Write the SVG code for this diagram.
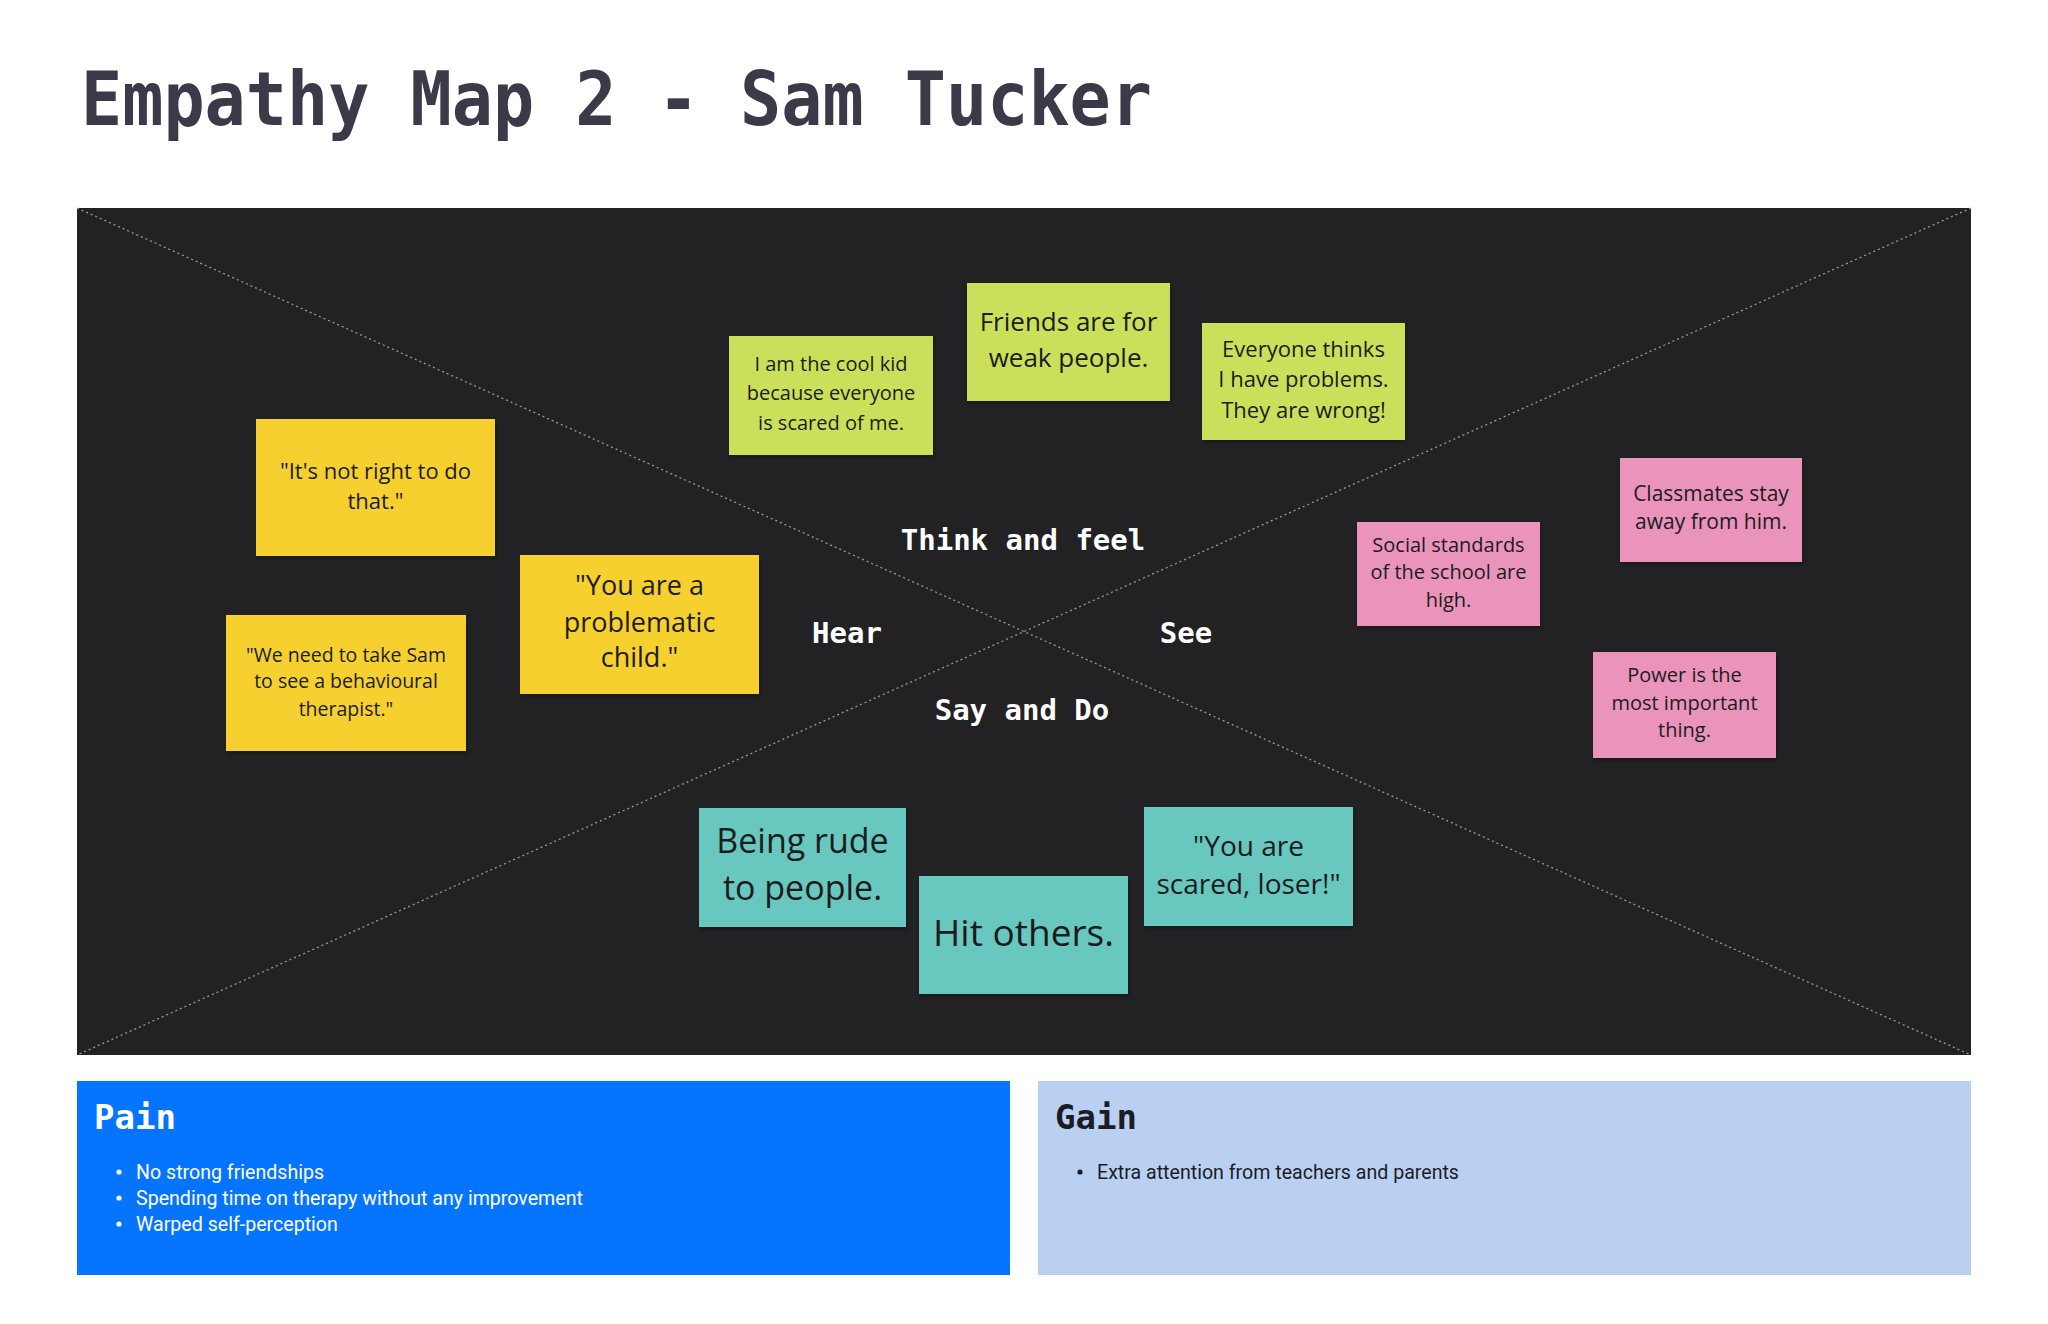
<svg xmlns="http://www.w3.org/2000/svg" width="2048" height="1324" viewBox="0 0 2048 1324">
<defs>
<style>
.title{font-family:"DejaVu Sans Mono","Liberation Mono",monospace;font-weight:bold;font-size:74px;fill:#3b3a48}
.lbl{font-family:"DejaVu Sans Mono","Liberation Mono",monospace;font-weight:bold;font-size:29px;fill:#ffffff;text-anchor:middle}
.note text{font-family:"Open Sans","Noto Sans",sans-serif;fill:#1c1c1c;text-anchor:middle}
.y{fill:#f5d02f}
.g{fill:#cbe05a}
.p{fill:#ea94bb}
.t{fill:#67c7bf}
.diag{stroke:#9a9a9a;stroke-width:1.3;stroke-dasharray:2 3;fill:none}
.head{font-family:"DejaVu Sans Mono","Liberation Mono",monospace;font-weight:bold;font-size:34px}
.bul{font-family:Roboto,"Noto Sans",sans-serif;font-size:19.6px}
</style>
<filter id="sh" x="-10%" y="-10%" width="130%" height="130%">
<feDropShadow dx="1" dy="2" stdDeviation="2" flood-color="#000" flood-opacity="0.35"/>
</filter>
</defs>
<rect width="2048" height="1324" fill="#ffffff"/>
<g id="title"><text class="title" x="81" y="125" textLength="1071" lengthAdjust="spacingAndGlyphs">Empathy Map 2 - Sam Tucker</text></g>
<g id="board"><rect x="77" y="208" width="1894" height="847" fill="#222224"/></g>
<g id="connectors">
<line class="diag" x1="77" y1="208" x2="1971" y2="1055"/>
<line class="diag" x1="1971" y1="208" x2="77" y2="1055"/>
</g>
<g id="labels">
<text class="lbl" x="1023" y="550">Think and feel</text>
<text class="lbl" x="847" y="643">Hear</text>
<text class="lbl" x="1186" y="643">See</text>
<text class="lbl" x="1022" y="720">Say and Do</text>
</g>
<g id="noteA" class="note"><rect class="y" x="256" y="419" width="239" height="137" filter="url(#sh)"/><text font-size="22"><tspan x="375.5" y="479">"It's not right to do</tspan><tspan x="375.5" y="509">that."</tspan></text></g>
<g id="noteB" class="note"><rect class="y" x="520" y="555" width="239" height="139" filter="url(#sh)"/><text font-size="27"><tspan x="639.5" y="595">"You are a</tspan><tspan x="639.5" y="632">problematic</tspan><tspan x="639.5" y="667">child."</tspan></text></g>
<g id="noteC" class="note"><rect class="y" x="226" y="615" width="240" height="136" filter="url(#sh)"/><text font-size="19.5"><tspan x="346" y="662">"We need to take Sam</tspan><tspan x="346" y="688">to see a behavioural</tspan><tspan x="346" y="716">therapist."</tspan></text></g>
<g id="noteD" class="note"><rect class="g" x="729" y="336" width="204" height="119" filter="url(#sh)"/><text font-size="20"><tspan x="831" y="371">I am the cool kid</tspan><tspan x="831" y="400">because everyone</tspan><tspan x="831" y="430">is scared of me.</tspan></text></g>
<g id="noteE" class="note"><rect class="g" x="967" y="283" width="203" height="118" filter="url(#sh)"/><text font-size="26"><tspan x="1068.5" y="331">Friends are for</tspan><tspan x="1068.5" y="367">weak people.</tspan></text></g>
<g id="noteF" class="note"><rect class="g" x="1202" y="323" width="203" height="117" filter="url(#sh)"/><text font-size="22"><tspan x="1303.5" y="357">Everyone thinks</tspan><tspan x="1303.5" y="387">I have problems.</tspan><tspan x="1303.5" y="418">They are wrong!</tspan></text></g>
<g id="noteG" class="note"><rect class="p" x="1357" y="522" width="183" height="104" filter="url(#sh)"/><text font-size="20"><tspan x="1448.5" y="552">Social standards</tspan><tspan x="1448.5" y="579">of the school are</tspan><tspan x="1448.5" y="607">high.</tspan></text></g>
<g id="noteH" class="note"><rect class="p" x="1620" y="458" width="182" height="104" filter="url(#sh)"/><text font-size="21"><tspan x="1711" y="501">Classmates stay</tspan><tspan x="1711" y="529">away from him.</tspan></text></g>
<g id="noteI" class="note"><rect class="p" x="1593" y="652" width="183" height="106" filter="url(#sh)"/><text font-size="20"><tspan x="1684.5" y="682">Power is the</tspan><tspan x="1684.5" y="710">most important</tspan><tspan x="1684.5" y="737">thing.</tspan></text></g>
<g id="noteJ" class="note"><rect class="t" x="699" y="808" width="207" height="119" filter="url(#sh)"/><text font-size="34"><tspan x="802.5" y="853">Being rude</tspan><tspan x="802.5" y="900">to people.</tspan></text></g>
<g id="noteK" class="note"><rect class="t" x="919" y="876" width="209" height="118" filter="url(#sh)"/><text font-size="37"><tspan x="1023.5" y="946">Hit others.</tspan></text></g>
<g id="noteL" class="note"><rect class="t" x="1144" y="807" width="209" height="119" filter="url(#sh)"/><text font-size="28"><tspan x="1248.5" y="856">"You are</tspan><tspan x="1248.5" y="894">scared, loser!"</tspan></text></g>
<g id="pain">
<rect x="77" y="1081" width="933" height="194" fill="#0575ff"/>
<text class="head" x="94" y="1129" fill="#ffffff">Pain</text>
<g class="bul" fill="#ffffff">
<circle cx="119" cy="1172" r="2.6"/><text x="136" y="1179">No strong friendships</text>
<circle cx="119" cy="1198" r="2.6"/><text x="136" y="1205">Spending time on therapy without any improvement</text>
<circle cx="119" cy="1224" r="2.6"/><text x="136" y="1231">Warped self-perception</text>
</g>
</g>
<g id="gain">
<rect x="1038" y="1081" width="933" height="194" fill="#b9d0f3"/>
<text class="head" x="1055" y="1129" fill="#1c1c24">Gain</text>
<g class="bul" fill="#1c1c24">
<circle cx="1080" cy="1172" r="2.6"/><text x="1097" y="1179">Extra attention from teachers and parents</text>
</g>
</g>
</svg>
